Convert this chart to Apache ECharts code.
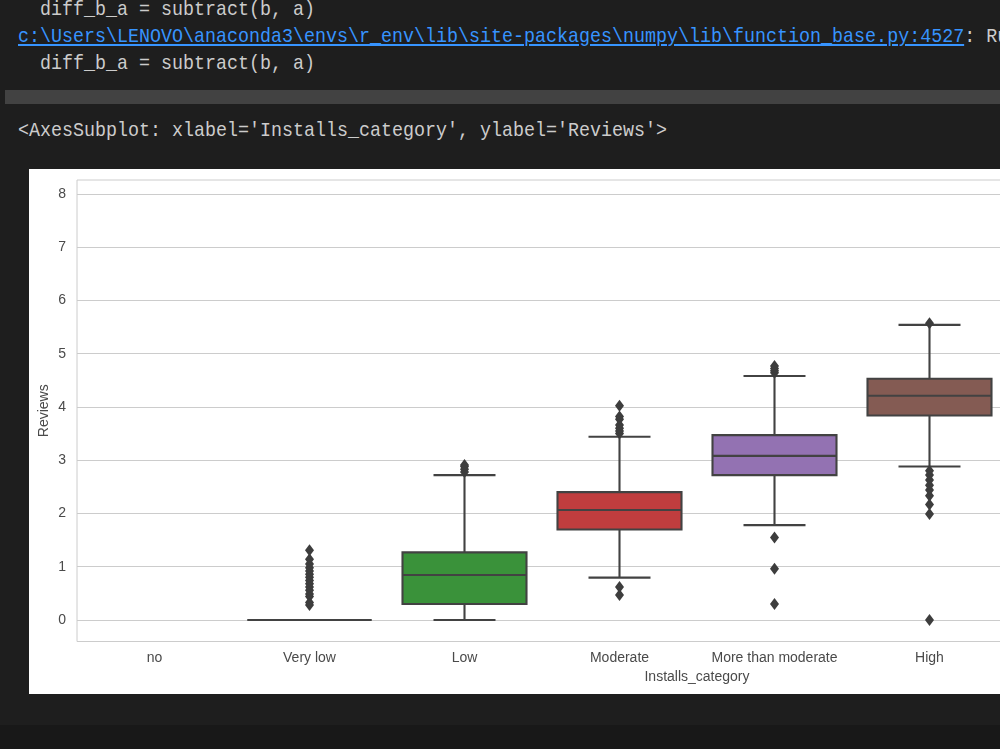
<!DOCTYPE html>
<html>
<head>
<meta charset="utf-8">
<style>
	html, body { margin: 0; width: 1000px; height: 749px; overflow: hidden; background: #1e1e1e; }
	.linea {
		position: absolute;
		left: 18px;
		height: 24px;
		line-height: 24px;
		font-family: 'Liberation Mono', monospace;
		font-size: 21px;
		color: #cccccc;
		white-space: pre;
		transform: scaleX(0.873);
		transform-origin: left center;
	}
	.linea a { color: #3794ff; text-decoration: underline; }
	#separador { position: absolute; left: 5px; top: 90px; width: 995px; height: 14px; background: #424242; }
	#pie { position: absolute; left: 0; top: 725px; width: 1000px; height: 24px; background: #181818; }
	#chart { position: absolute; left: 29px; top: 169px; width: 971px; height: 525px; background: #ffffff; }
</style>
</head>
<body>
<div class="linea" style="top: -2px">  diff_b_a = subtract(b, a)</div>
<div class="linea" style="top: 25px"><a>c:\Users\LENOVO\anaconda3\envs\r_env\lib\site-packages\numpy\lib\function_base.py:4527</a>: RuntimeWarning</div>
<div class="linea" style="top: 52px">  diff_b_a = subtract(b, a)</div>
<div id="separador"></div>
<div class="linea" style="top: 119px">&lt;AxesSubplot: xlabel='Installs_category', ylabel='Reviews'&gt;</div>
<div id="chart"></div>
<div id="pie"></div>
<script src="https://cdn.jsdelivr.net/npm/echarts@6/dist/echarts.min.js"></script>
<script>
// Two more categories exist in the original axis but fall outside the crop
const categories = ['no', 'Very low', 'Low', 'Moderate', 'More than moderate', 'High', '', '']
const yTicks = [0, 1, 2, 3, 4, 5, 6, 7, 8]

const boxCategories = [1, 2, 3, 4, 5]
const whiskerLow = [0, 0, 0.795, 1.78, 2.88]
const q1 = [0, 0.3, 1.7, 2.72, 3.84]
const median = [0, 0.845, 2.066, 3.08, 4.21]
const q3 = [0, 1.27, 2.4, 3.47, 4.53]
const whiskerHigh = [0, 2.72, 3.44, 4.58, 5.54]
const boxColors = ['#dd8452', '#3a923a', '#c03d3e', '#9372b2', '#845b53']

const outliersVeryLow = [0.28, 0.33, 0.44, 0.49, 0.56, 0.62, 0.68, 0.74, 0.8, 0.86, 0.92, 0.98, 1.05, 1.14, 1.31]
const outliersLow = [2.78, 2.83, 2.88, 2.91]
const outliersModerate = [0.47, 0.62, 3.5, 3.55, 3.6, 3.66, 3.77, 3.82, 4.02]
const outliersMoreThanModerate = [0.3, 0.96, 1.55, 4.64, 4.68, 4.72, 4.77]
const outliersHigh = [0, 1.99, 2.17, 2.33, 2.44, 2.53, 2.63, 2.72, 2.8, 5.57]

const colorLinea = '#424242'
const colorTexto = '#4a4a4a'

const filasCaja = boxCategories.map((c, i) => [c, whiskerLow[i], q1[i], median[i], q3[i], whiskerHigh[i]])

const filasAtipicos = []
;[
	[1, outliersVeryLow],
	[2, outliersLow],
	[3, outliersModerate],
	[4, outliersMoreThanModerate],
	[5, outliersHigh],
].forEach(([c, valores]) => {
	valores.forEach((v) => filasAtipicos.push([c, v]))
})

// Seaborn caps are half the box width, the stock boxplot series draws them full width
function dibujarCaja(params, api) {
	const cat = api.value(0)
	const ancho = api.size([1, 0])[0] * 0.8
	const [x, yLow] = api.coord([cat, api.value(1)])
	const yQ1 = api.coord([cat, api.value(2)])[1]
	const yMed = api.coord([cat, api.value(3)])[1]
	const yQ3 = api.coord([cat, api.value(4)])[1]
	const yHigh = api.coord([cat, api.value(5)])[1]
	const estilo = { stroke: colorLinea, lineWidth: 2.1, fill: null }
	const linea = (x1, y1, x2, y2) => ({
		type: 'line',
		shape: { x1, y1, x2, y2 },
		style: estilo,
	})
	return {
		type: 'group',
		children: [
			linea(x, yHigh, x, yQ3),
			linea(x, yQ1, x, yLow),
			linea(x - ancho / 4, yHigh, x + ancho / 4, yHigh),
			linea(x - ancho / 4, yLow, x + ancho / 4, yLow),
			{
				type: 'rect',
				shape: { x: x - ancho / 2, y: yQ3, width: ancho, height: yQ1 - yQ3 },
				style: { stroke: colorLinea, lineWidth: 2.1, fill: boxColors[params.dataIndex] },
			},
			linea(x - ancho / 2, yMed, x + ancho / 2, yMed),
		],
	}
}

const chart = echarts.init(document.getElementById('chart'))

chart.setOption({
	animation: false,
	grid: {
		show: true,
		left: 48,
		top: 11,
		width: 1240,
		height: 461.5,
		outerBoundsMode: 'none',
		borderColor: '#cccccc',
		borderWidth: 1,
	},
	xAxis: {
		type: 'category',
		data: categories,
		name: 'Installs_category',
		nameLocation: 'middle',
		nameGap: 29,
		nameMoveOverlap: false,
		nameTextStyle: { fontFamily: 'Liberation Sans', fontSize: 14, color: colorTexto },
		axisLine: { show: false },
		axisTick: { show: false },
		axisLabel: {
			interval: 0,
			margin: 10,
			fontFamily: 'Liberation Sans',
			fontSize: 14,
			color: colorTexto,
		},
	},
	yAxis: {
		type: 'value',
		min: -0.404,
		max: 8.26,
		name: 'Reviews',
		nameLocation: 'middle',
		nameGap: 26,
		nameMoveOverlap: false,
		nameTextStyle: { fontFamily: 'Liberation Sans', fontSize: 14, color: colorTexto },
		axisLine: { show: false },
		axisTick: { show: false, customValues: yTicks },
		axisLabel: {
			customValues: yTicks,
			margin: 11,
			fontFamily: 'Liberation Sans',
			fontSize: 14,
			color: colorTexto,
		},
		splitLine: { show: true, lineStyle: { color: '#cccccc', width: 1 } },
	},
	series: [
		{
			type: 'custom',
			data: filasCaja,
			renderItem: dibujarCaja,
			encode: { x: 0, y: [1, 2, 3, 4, 5] },
			z: 3,
		},
		{
			type: 'scatter',
			data: filasAtipicos,
			symbol: 'diamond',
			symbolSize: [9, 12],
			itemStyle: { color: '#3d3d3d', opacity: 1 },
			z: 4,
		},
	],
})
</script>
</body>
</html>
